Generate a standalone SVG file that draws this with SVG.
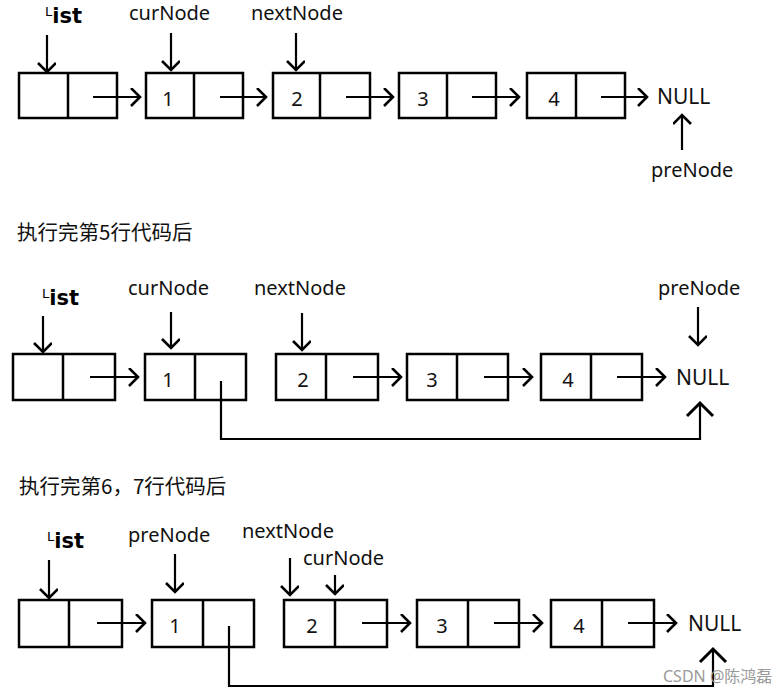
<svg xmlns="http://www.w3.org/2000/svg" width="778" height="694" viewBox="0 0 778 694">
<defs>
<style>
.box{fill:#fff;stroke:#000;stroke-width:2.5}
.ln{fill:none;stroke:#000;stroke-width:2.2}
.t{font-family:"Noto Sans","DejaVu Sans",sans-serif;font-size:20px;fill:#111}
.num{font-family:"Noto Sans","DejaVu Sans",sans-serif;font-size:20px;fill:#111;text-anchor:middle}
.null{font-family:"Noto Sans","DejaVu Sans",sans-serif;font-size:21px;fill:#111}
.h{font-family:"Noto Sans CJK SC","Noto Sans",sans-serif;font-size:20.5px;fill:#111}
.lst{font-family:"DejaVu Sans",sans-serif;font-size:21px;font-weight:bold;fill:#000}
.lsL{font-weight:normal;font-size:13px}
.wm{font-family:"Noto Sans","Noto Sans CJK SC",sans-serif;font-size:16px;fill:#999}
</style>
<marker id="a" markerUnits="userSpaceOnUse" markerWidth="20" markerHeight="20" viewBox="0 0 20 20" refX="10" refY="9" orient="auto"><path d="M1,0 L10,9 L1,18" fill="none" stroke="#000" stroke-width="2.6"/></marker>
<marker id="b" markerUnits="userSpaceOnUse" markerWidth="32" markerHeight="32" viewBox="0 0 32 32" refX="15" refY="15" orient="auto"><path d="M2,2 L15,15 L2,28" fill="none" stroke="#000" stroke-width="3"/></marker>
</defs>
<rect width="778" height="694" fill="#fff"/>

<!-- Row 1 -->
<g id="r1-head"><rect class="box" x="19" y="73" width="98" height="45"/><line class="ln" x1="68" y1="73" x2="68" y2="118" style="stroke-width:2.5"/></g>
<g id="r1-n1"><rect class="box" x="146" y="73" width="97" height="45"/><line class="ln" x1="194" y1="73" x2="194" y2="118" style="stroke-width:2.5"/><text class="num" x="168" y="106">1</text></g>
<g id="r1-n2"><rect class="box" x="273" y="73" width="97" height="45"/><line class="ln" x1="320" y1="73" x2="320" y2="118" style="stroke-width:2.5"/><text class="num" x="297" y="106">2</text></g>
<g id="r1-n3"><rect class="box" x="399" y="73" width="97" height="45"/><line class="ln" x1="447" y1="73" x2="447" y2="118" style="stroke-width:2.5"/><text class="num" x="423" y="106">3</text></g>
<g id="r1-n4"><rect class="box" x="527" y="73" width="98" height="45"/><line class="ln" x1="576" y1="73" x2="576" y2="118" style="stroke-width:2.5"/><text class="num" x="554" y="106">4</text></g>
<g id="r1-null"><text class="null" x="657" y="104">NULL</text></g>
<g id="r1-labels">
<text class="lst" x="45" y="23"><tspan class="lsL" dy="-7">L</tspan><tspan dy="7">ist</tspan></text>
<text class="t" x="129" y="20">curNode</text>
<text class="t" x="251" y="20">nextNode</text>
<text class="t" x="651" y="177">preNode</text>
</g>
<g id="r1-connectors">
<line class="ln" x1="93" y1="97" x2="140" y2="97" marker-end="url(#a)"/>
<line class="ln" x1="220" y1="97" x2="266" y2="97" marker-end="url(#a)"/>
<line class="ln" x1="346" y1="97" x2="393" y2="97" marker-end="url(#a)"/>
<line class="ln" x1="472" y1="97" x2="519" y2="97" marker-end="url(#a)"/>
<line class="ln" x1="601" y1="97" x2="647" y2="97" marker-end="url(#a)"/>
<line class="ln" x1="47" y1="35" x2="47" y2="72" marker-end="url(#a)"/>
<line class="ln" x1="171" y1="33" x2="171" y2="70" marker-end="url(#a)"/>
<line class="ln" x1="296" y1="33" x2="296" y2="70" marker-end="url(#a)"/>
<line class="ln" x1="682" y1="150" x2="682" y2="115" marker-end="url(#a)"/>
</g>

<text class="h" x="17" y="240">执行完第5行代码后</text>

<!-- Row 2 -->
<g id="r2-head"><rect class="box" x="13" y="354" width="102" height="46"/><line class="ln" x1="63" y1="354" x2="63" y2="400" style="stroke-width:2.5"/></g>
<g id="r2-n1"><rect class="box" x="145" y="354" width="101" height="46"/><line class="ln" x1="195" y1="354" x2="195" y2="400" style="stroke-width:2.5"/><text class="num" x="168" y="387">1</text></g>
<g id="r2-n2"><rect class="box" x="276" y="354" width="102" height="46"/><line class="ln" x1="326" y1="354" x2="326" y2="400" style="stroke-width:2.5"/><text class="num" x="303" y="387">2</text></g>
<g id="r2-n3"><rect class="box" x="407" y="354" width="101" height="46"/><line class="ln" x1="457" y1="354" x2="457" y2="400" style="stroke-width:2.5"/><text class="num" x="432" y="387">3</text></g>
<g id="r2-n4"><rect class="box" x="541" y="354" width="101" height="46"/><line class="ln" x1="591" y1="354" x2="591" y2="400" style="stroke-width:2.5"/><text class="num" x="568" y="387">4</text></g>
<g id="r2-null"><text class="null" x="676" y="385">NULL</text></g>
<g id="r2-labels">
<text class="lst" x="42" y="305"><tspan class="lsL" dy="-7">L</tspan><tspan dy="7">ist</tspan></text>
<text class="t" x="128" y="295">curNode</text>
<text class="t" x="254" y="295">nextNode</text>
<text class="t" x="658" y="295">preNode</text>
</g>
<g id="r2-connectors">
<line class="ln" x1="90" y1="377" x2="138" y2="377" marker-end="url(#a)"/>
<line class="ln" x1="353" y1="377" x2="401" y2="377" marker-end="url(#a)"/>
<line class="ln" x1="484" y1="377" x2="532" y2="377" marker-end="url(#a)"/>
<line class="ln" x1="617" y1="377" x2="665" y2="377" marker-end="url(#a)"/>
<line class="ln" x1="43" y1="316" x2="43" y2="352" marker-end="url(#a)"/>
<line class="ln" x1="171" y1="312" x2="171" y2="348" marker-end="url(#a)"/>
<line class="ln" x1="302" y1="313" x2="302" y2="350" marker-end="url(#a)"/>
<line class="ln" x1="698" y1="307" x2="698" y2="345" marker-end="url(#a)"/>
<path class="ln" d="M221,381 V439 H700 V403" marker-end="url(#b)"/>
</g>

<text class="h" x="19" y="494">执行完第6，7行代码后</text>

<!-- Row 3 -->
<g id="r3-head"><rect class="box" x="19" y="600" width="103" height="47"/><line class="ln" x1="69" y1="600" x2="69" y2="647" style="stroke-width:2.5"/></g>
<g id="r3-n1"><rect class="box" x="152" y="600" width="102" height="47"/><line class="ln" x1="203" y1="600" x2="203" y2="647" style="stroke-width:2.5"/><text class="num" x="175" y="633">1</text></g>
<g id="r3-n2"><rect class="box" x="284" y="600" width="103" height="47"/><line class="ln" x1="335" y1="600" x2="335" y2="647" style="stroke-width:2.5"/><text class="num" x="312" y="633">2</text></g>
<g id="r3-n3"><rect class="box" x="417" y="600" width="102" height="47"/><line class="ln" x1="468" y1="600" x2="468" y2="647" style="stroke-width:2.5"/><text class="num" x="442" y="633">3</text></g>
<g id="r3-n4"><rect class="box" x="551" y="600" width="103" height="47"/><line class="ln" x1="602" y1="600" x2="602" y2="647" style="stroke-width:2.5"/><text class="num" x="579" y="633">4</text></g>
<g id="r3-null"><text class="null" x="688" y="631">NULL</text></g>
<g id="r3-labels">
<text class="lst" x="47" y="548"><tspan class="lsL" dy="-7">L</tspan><tspan dy="7">ist</tspan></text>
<text class="t" x="128" y="542">preNode</text>
<text class="t" x="242" y="538">nextNode</text>
<text class="t" x="303" y="565">curNode</text>
</g>
<g id="r3-connectors">
<line class="ln" x1="97" y1="623" x2="145" y2="623" marker-end="url(#a)"/>
<line class="ln" x1="362" y1="623" x2="410" y2="623" marker-end="url(#a)"/>
<line class="ln" x1="494" y1="623" x2="542" y2="623" marker-end="url(#a)"/>
<line class="ln" x1="628" y1="623" x2="676" y2="623" marker-end="url(#a)"/>
<line class="ln" x1="49" y1="560" x2="49" y2="598" marker-end="url(#a)"/>
<line class="ln" x1="175" y1="554" x2="175" y2="592" marker-end="url(#a)"/>
<line class="ln" x1="290" y1="558" x2="290" y2="595" marker-end="url(#a)"/>
<line class="ln" x1="335" y1="575" x2="335" y2="594" marker-end="url(#a)"/>
<path class="ln" d="M229,626 V686 H713 V649" marker-end="url(#b)"/>
</g>

<text class="wm" x="663" y="682">CSDN @陈鸿磊</text>
</svg>
